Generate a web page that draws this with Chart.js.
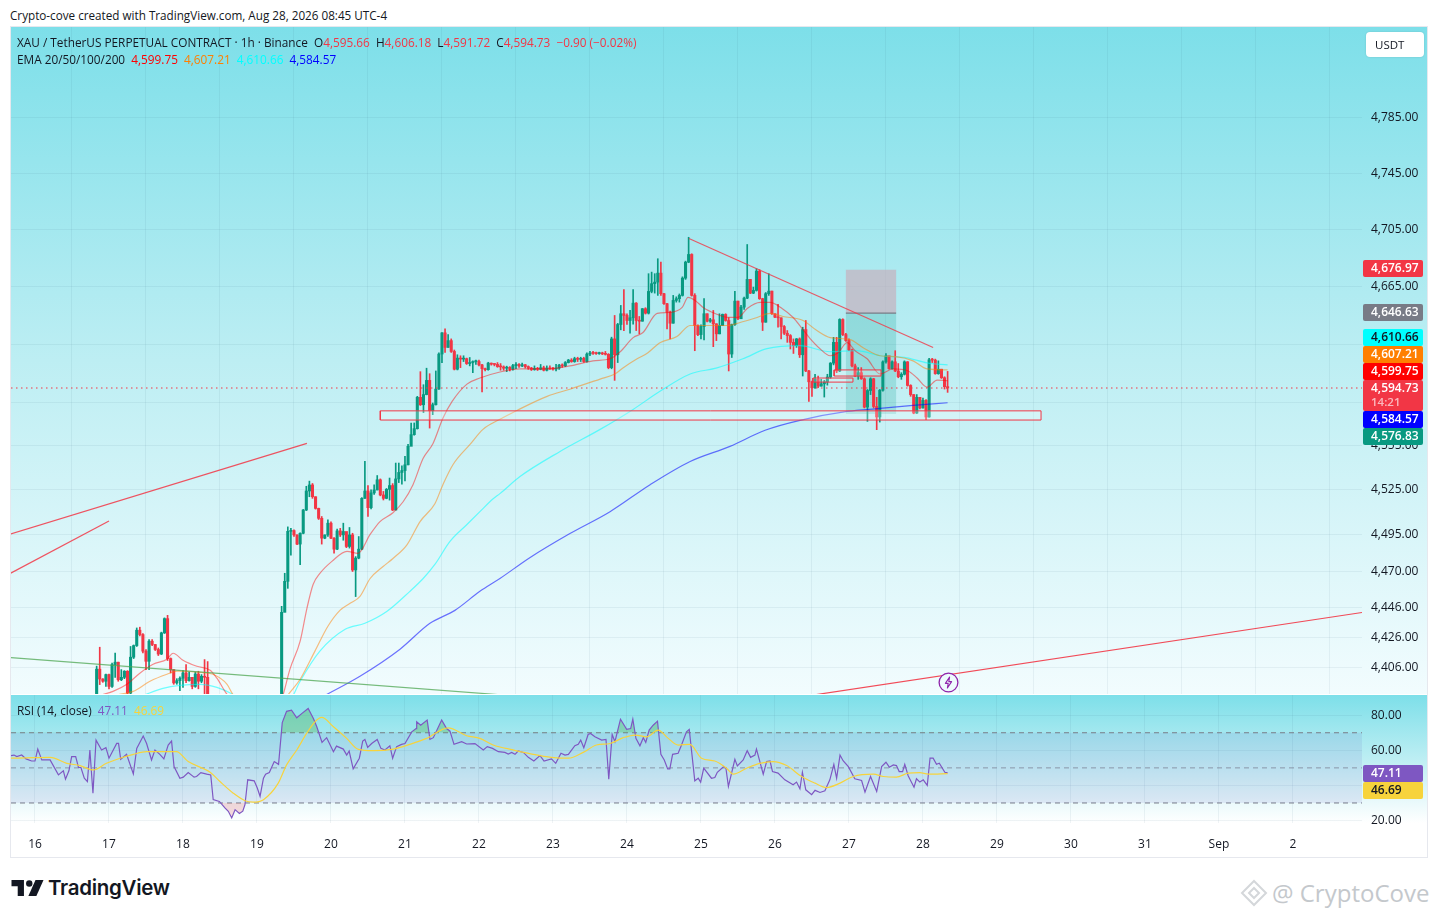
<!DOCTYPE html>
<html>
<head>
<meta charset="utf-8">
<title>XAU / TetherUS</title>
<script src="https://cdn.jsdelivr.net/npm/chart.js@4"></script>
<style>
  html, body { margin: 0; padding: 0; background: #fff; }
  body { width: 1438px; height: 918px; position: relative; overflow: hidden; font-family: "Open Sans", sans-serif; color: #131722; }
  .abs { position: absolute; white-space: nowrap; }
  #frame { left: 10px; top: 26px; width: 1418px; height: 832px; border: 1px solid #e6e8ee; box-sizing: border-box; }
  #mainPane { left: 11px; top: 27px; width: 1417px; height: 667px; background: linear-gradient(180deg, #7ddfe9 0%, #bdeef3 50%, #f2fcfe 100%); }
  #rsiPane { left: 11px; top: 695px; width: 1417px; height: 128px; background: linear-gradient(180deg, #7ddfe9 0%, #bdeef3 50%, #ffffff 100%); }
  #mainChart { position: absolute; left: 11px; top: 27px; }
  #rsiChart { position: absolute; left: 11px; top: 695px; }
  .legend { font-size: 11.8px; line-height: 14px; }
  #usdt { left: 1366px; top: 32px; width: 58px; height: 25px; background: #fff; border-radius: 4px; font-size: 11.5px; line-height: 25px; padding-left: 9px; box-sizing: border-box; box-shadow: 0 0 2px rgba(0,0,0,.15); }
</style>
</head>
<body>
<div class="abs" id="mainPane"></div>
<div class="abs" id="rsiPane"></div>
<div class="abs" id="frame"></div>
<canvas id="mainChart" width="1417" height="667"></canvas>
<canvas id="rsiChart" width="1417" height="163"></canvas>

<div class="abs" style="left:10px;top:8px;font-size:11.7px;line-height:14px;">Crypto-cove created with TradingView.com, Aug 28, 2026 08:45 UTC-4</div>

<div class="abs legend" style="left:17px;top:35px;">XAU / TetherUS PERPETUAL CONTRACT · 1h · Binance&nbsp; O<span style="color:#f23645">4,595.66</span>&nbsp; H<span style="color:#f23645">4,606.18</span>&nbsp; L<span style="color:#f23645">4,591.72</span>&nbsp; C<span style="color:#f23645">4,594.73</span>&nbsp; <span style="color:#f23645">−0.90 (−0.02%)</span></div>
<div class="abs legend" style="left:17px;top:52px;">EMA 20/50/100/200&nbsp; <span style="color:#ff0000">4,599.75</span>&nbsp; <span style="color:#ff7f00">4,607.21</span>&nbsp; <span style="color:#00ffff">4,610.66</span>&nbsp; <span style="color:#0000ff">4,584.57</span></div>
<div class="abs legend" style="left:17px;top:703px;">RSI (14, close)&nbsp; <span style="color:#7e57c2">47.11</span>&nbsp; <span style="color:#f7d33c">46.69</span></div>
<div class="abs" id="usdt">USDT</div>

<svg class="abs" style="left:938px;top:672px;" width="21" height="21" viewBox="0 0 21 21">
  <circle cx="10.5" cy="10.5" r="9.4" fill="#eefbfd" stroke="#8e24aa" stroke-width="1.3"/>
  <path d="M11.6 5 L7.4 11.4 H10.2 L9.4 16 L13.6 9.6 H10.8 Z" fill="none" stroke="#8e24aa" stroke-width="1.1" stroke-linejoin="round"/>
</svg>

<svg class="abs" style="left:11px;top:880px;" width="33" height="16" viewBox="0 0 36 18">
  <path d="M14 0H0v7h7v11h7z" fill="#131722"/><circle cx="20" cy="4" r="3.6" fill="#131722"/><path d="M27 0h9l-8 18h-9z" fill="#131722"/>
</svg>
<div class="abs" style="left:48px;top:875px;font-family:Inter,sans-serif;font-weight:600;font-size:20.5px;line-height:26px;letter-spacing:-.3px;">TradingView</div>

<svg class="abs" style="left:1240px;top:879px;" width="28" height="28" viewBox="0 0 28 28">
  <g fill="none" stroke="#d4d7da" stroke-width="2"><path d="M14 2 L26 14 L14 26 L2 14 Z"/><path d="M14 9 L19 14 L14 19 L9 14 Z"/></g>
</svg>
<div class="abs" style="left:1272px;top:877px;font-size:24px;line-height:32px;color:#c4c8cc;">@ CryptoCove</div>

<script>
// hours counted from Aug 16 00:00, candles start at hour 17
const firstHour = 17;
const closes = [
  4382,4380,4384,
  4405,4398.5,4397,4401.4,4393.6,4408,4409.6,4398,4399.6,4403.6,
  4389.2,4412.9,4420.6,4430.8,4427.9,4416.9,4410.2,4423.5,4421.3,4418,
  4415,4429,4438.5,4412,4404.7,4395.9,4397.4,4399,4402.5,4397.4,
  4399.6,4393.6,4401.8,4397,4400.3,4399.6,4387.5,null,null,null,
  null,null,null,null,null,null,null,null,null,null,
  null,null,null,null,null,null,null,null,null,null,
  4442.7,4463.4,4497,4497.5,4494.6,4488.4,4495.7,4511.4,4524.3,4528.4,
  4520.4,4512.5,4505.8,4492.4,4494.6,4502.5,4492.4,4485,4497.3,4494.6,
  4496.9,4486.8,4494.6,4471,4479,4485,4519.3,4524.3,4513,4523,
  4525,4531.9,4521.6,4519.3,4525.4,4528,4511.4,4532.5,4536.9,4538.2,
  4542.1,4554.7,4562.7,4566.8,4588.3,4583.2,4590.2,4600,4579.1,4583.2,
  4594,4618.2,4632.9,4622.8,4627.5,4620,4607.7,4615.4,4614.7,4615,
  4611.6,4612.3,4612.9,4613,4610.7,4608.1,4607.4,4611.9,4611.2,4611,
  4609.5,4609.3,4608.4,4609,4607.7,4610.2,4611,4610,4610.8,4609.5,
  4608.5,4607.5,4608,4607.6,4608.7,4607,4608.5,4608,4607.8,4608.5,
  4610.5,4610,4612.3,4614,4613,4615,4614.5,4615.2,4613,4618.2,
  4618.9,4618.7,4618.5,4618.7,4618.3,4618,4608.8,4628.7,4617.7,4638.7,
  4646.2,4645,4641.5,4643.4,4653.6,4641.5,4641,4649.7,4646.6,4661.8,
  4667.2,4668.3,4674.6,4660.2,4653.2,4647.3,4639.6,4655.5,4656.7,4659,
  4671.1,4682.3,4687.7,4659,4638,4631.7,4637.3,4646.2,4641,4642,
  4639.2,4632.2,4638,4645.7,4641.5,4618.2,4638.7,4655,4642.7,4650.8,
  4657.1,4670.2,4660.6,4662.5,4676,4656.7,4640.3,4660.2,4662,4646.2,
  4643.8,4643.4,4637.3,4632.6,4631,4626.3,4624,4628.7,4617.7,4635.2,
  4606.5,4599,4594.9,4600.7,4596,4597.6,4599,4602.3,4611.9,4626.3,
  4606.5,4642.2,4631.7,4627.5,4621,4610,4603,4605.3,4601.1,4581.6,
  4593,4601.1,4582,4574.8,4593.2,4612.8,4617,4608.1,4612.8,4606.5,
  4602.5,4604.2,4612.8,4596.5,4590.2,4577.5,4588.3,4581,4586.2,4574.8,
  4614.2,4614,4604.6,4607.7,4601.8,4595.66,4594.73
];
const highs = [
  4384,4383,4386,
  4407,4419.5,4398.7,4401.8,4401.8,4409,4415.7,4409.6,4404.7,4404,
  4404,4420,4421,4432.3,4432.8,4428.6,4418,4424.6,4424.6,4421.3,
  4419,4429.5,4439,4440.7,4412.4,4404.7,4398.7,4400,4404,4408,
  4403,4399.6,4403,4403.6,4401.4,4411.3,4410,null,null,null,
  null,null,null,null,null,null,null,null,null,null,
  null,null,null,null,null,null,null,null,null,null,
  4446.7,4468.8,4500,4499,4498,4494.6,4496,4511.8,4527.5,4531,
  4529.4,4520.4,4512.7,4507,4494.6,4504.7,4503.4,4492.8,4498.6,4499,
  4502.5,4494.6,4499.6,4495.7,4480,4493.5,4519.8,4544.4,4528,4525,
  4528.4,4534.8,4532.5,4524,4526,4533.1,4529.3,4543.3,4543.3,4541.4,
  4547.8,4556,4570.7,4570.7,4589,4606,4597,4608.4,4604.6,4584.4,
  4606.5,4619,4633.1,4635.7,4631.7,4628.7,4621,4617.7,4617,4617,
  4615.4,4615.8,4613.5,4614,4614,4611,4608.5,4612.5,4612,4611.5,
  4612.3,4611.6,4610,4609.8,4609.5,4611,4612.3,4611.6,4612,4611,
  4610,4609,4610,4609,4611,4609.8,4610,4610,4609,4611,
  4611,4611.4,4613,4614.5,4615,4616,4616,4616,4616,4619,
  4620,4620,4619.5,4619.5,4619.5,4620,4618.5,4629.9,4645,4639.5,
  4652,4663,4646.2,4648.5,4663,4654,4644.3,4649.9,4650.4,4674.2,
  4675.3,4674.2,4684.7,4682.3,4660.5,4653.5,4648,4659,4658,4660,
  4672,4683,4699.8,4688.2,4660.2,4638.5,4638.5,4656.7,4646.2,4643,
  4648.5,4639.2,4646.2,4646,4646.2,4643.4,4639,4661.8,4655,4652,
  4657.8,4694.7,4670.2,4664.8,4677.7,4677,4657,4661,4674.2,4662,
  4646.2,4652.7,4643.4,4638,4634.5,4631.7,4628.7,4629,4629.4,4636.8,
  4641.5,4607,4599.5,4604.2,4603,4600.7,4600,4604.2,4612.3,4629.8,
  4629.8,4642.7,4642.7,4632.6,4628.7,4621.7,4611.2,4608.8,4608.8,4601.8,
  4593.7,4601.8,4601.4,4588.3,4593.7,4613.5,4618.6,4616.3,4613.5,4620.5,
  4611.6,4605.3,4613.5,4613,4597,4590.2,4590.2,4587.8,4587.8,4586.7,
  4615.2,4615.2,4614.7,4613.5,4607.7,4602.5,4606.18
];
const lows = [
  4380,4378,4379,
  4384,4394.8,4396.3,4393.6,4391.9,4393,4399.6,4397,4397.4,4398.7,
  4388,4388,4412,4420,4427,4415.7,4404.7,4404.7,4420.6,4417.3,
  4414,4414.6,4428.6,4410.7,4402.5,4395,4395,4390.8,4393,4396,
  4397,4392,4393,4392,4396,4387.7,4384,null,null,null,
  null,null,null,null,null,null,null,null,null,null,
  null,null,null,null,null,null,null,null,null,null,
  4370,4443,4458.7,4481,4493.5,4488,4474.5,4495.3,4511,4520.4,
  4519.3,4512,4505,4488.4,4492,4493.5,4492,4482.3,4484.6,4493.5,
  4491,4486,4485.7,4470,4453.2,4478.5,4484.6,4519.3,4507,4512.1,
  4522,4525,4521,4518.2,4519,4518.1,4511,4511.4,4530,4529,
  4531.2,4542,4556.1,4562.3,4566.5,4582.7,4577.8,4590,4567.2,4576.4,
  4583,4593.7,4612.3,4619.3,4622.8,4619.3,4607.2,4607.2,4608.8,4613,
  4611,4610,4605.3,4611,4610,4592,4606.5,4607,4610.5,4610,
  4609,4607,4607,4606,4606.5,4607,4608,4609,4609.5,4608.5,
  4607.6,4606.8,4607,4606.8,4607.3,4606.5,4606.5,4607.5,4607,4606.5,
  4607.5,4609,4609.5,4612,4612.5,4612.5,4613,4613,4612.5,4612.5,
  4617,4618,4618,4618,4617.8,4617.5,4608,4608,4600,4612.3,
  4635,4634.5,4638.7,4632.6,4639,4634.5,4632.2,4641,4646,4646,
  4660.8,4660.6,4659,4659,4652.7,4635.7,4628.7,4639.6,4654.3,4654.3,
  4658.5,4670.2,4681.9,4658.5,4620.5,4631,4628.7,4628,4640.5,4640.2,
  4623.3,4627.5,4632.2,4638,4641,4606.5,4615.8,4638,4642,4645,
  4649.2,4656.7,4660.2,4660.2,4662,4656.2,4634.5,4640.3,4659,4645.7,
  4643.4,4636.8,4628.7,4631.7,4626.3,4621.7,4618.6,4622.8,4615.8,4603,
  4606,4585.5,4589,4594.4,4595,4596,4588.5,4596.7,4601.4,4610.7,
  4605.3,4606,4631,4627,4620.5,4609.3,4602.5,4600.7,4600.7,4581,
  4571.8,4590.2,4581,4566.1,4571.3,4592.5,4611.9,4607.7,4607.7,4606,
  4601.8,4600.7,4603.7,4596,4589,4577,4577.2,4580.3,4580.8,4572.9,
  4574.6,4612.3,4604.2,4604.2,4601.3,4594,4591.72
];

const ema20Hours = [21.1,25.3,29.8,34,38.3,42.8,44.8,48,52.5,56.8,59,62.3,70,78,80.4,82.7,86,88.2,90.2,92.4,96.3,101.2,104.8,108.7,111.9,116.1,119.4,122.6,125.9,129.1,132.3,135.3,140.1,144.3,150.8,157.3,166.1,173.5,181,186.5,189.8,194,197.2,201.8,206,209.9,211.8,214.1,216.7,220.6,224.8,228,231,235.2,238.4,242.3,245.9,248.8,251.4,254.6,257.9,260.5,263.4,266,269.9,274.1,278.3,283.2,286.1,289.3,292.6,296];
const ema20 = [4387.7,4390.3,4395,4402.3,4408.2,4411.6,4415.5,4410.9,4406.9,4404.3,4399,4388.3,4374,4375,4387.6,4405,4423.5,4445.4,4461.3,4468.7,4476.8,4483.5,4482.2,4494.9,4503.6,4509.6,4517,4528.6,4546.5,4556.7,4573.9,4585.5,4597.4,4601.6,4605.8,4607.9,4607.9,4610,4613.5,4614.9,4619.8,4629.6,4633.1,4646.4,4647.1,4650.6,4657.6,4655.5,4650.6,4646.4,4643.6,4643.6,4649.9,4654.1,4654.1,4649.9,4643.6,4635.9,4628.9,4621.9,4617,4619.1,4626.1,4620.5,4614.9,4604.4,4607.9,4606.5,4601.6,4595.3,4600.2,4599.75];
const ema50Hours = [25.3,31.8,37.3,42.8,46.1,53.5,57.7,62.3,64.2,73,79.5,81.7,86,90.8,95,98.9,102.2,105.4,108.7,112.9,116.1,120.7,124.9,129.7,132.3,135.6,141.1,145.3,150.8,156.3,166.1,173.5,183.3,188.1,190.7,195.3,198.8,202.7,208.2,212.5,218,224.5,228.7,234.2,238.4,242.6,249.1,253.6,257.9,264.4,268.6,274.1,279.6,284.8,289.3,296];
const ema50 = [4387.6,4390.3,4397,4401.6,4403.6,4402.9,4401.6,4395,4388.3,4374,4380,4387,4398.3,4416.9,4433.4,4444,4448.7,4453.4,4465.3,4473.3,4478.7,4488.1,4503.6,4515.7,4528.6,4542.3,4556,4566.3,4573.2,4579.3,4589,4593.9,4600.9,4604.4,4608.6,4614.9,4619.1,4626.1,4630.3,4638,4638,4638,4640.1,4643.6,4646.4,4644.3,4641.5,4634.5,4629.6,4628.2,4622.6,4617,4616.3,4613.5,4607.9,4607.21];
const ema100Hours = [35,41.5,47,53.5,59,64.2,74.6,82.7,86,92.4,100.6,107,114.2,121.6,125.9,129.7,134.6,140.1,144.3,148.6,150.8,157.3,170.3,183.3,194,202.7,212.5,221.2,229.6,237.4,248.1,257.9,266.6,274.1,282.8,289.3,296];
const ema100 = [4387.6,4392.3,4394.3,4395,4393,4388.3,4374,4384,4397,4416.9,4431.4,4435.4,4443.4,4456.7,4465.3,4474.7,4490.2,4501.6,4510.3,4519,4522.5,4534.1,4551.2,4566.3,4580,4592.5,4604.4,4608.6,4614.9,4621.9,4624,4619.8,4620.5,4617,4615.6,4612.1,4610.66];
const ema200Hours = [94,105.4,118.4,128.1,136.2,144.3,150.8,160.6,173.5,186.5,199.5,212.5,225.4,236.8,248.1,263.4,274.1,284.8,296];
const ema200 = [4387.6,4400.3,4418.2,4435.4,4444,4456.7,4465.3,4479.4,4495.5,4510.3,4528.6,4544.4,4554.7,4565.7,4572.5,4578.6,4580.7,4582.8,4584.57];

const rsiHours = [-7.9,-6.8,-5.9,-4.3,-2.9,-1.1,0,.9,2.2,4.9,7.6,9.2,9.9,11,11.9,13.2,14.1,14.9,16,17,17.8,18.8,19.8,21.6,23,24,26.5,27.1,27.8,29.7,31.9,33,35.1,36.2,37.8,38.9,40.5,41.8,43.2,44.3,45.1,47,48.1,49.7,51.6,52.4,53.8,55.7,57,57.8,59.8,61.6,62.7,63.8,64.9,66.3,67.4,68.1,69,71.1,72.1,73,74.1,74.8,76,77.6,79,80.2,81.6,83.2,84.9,86.5,88.6,90.3,91.4,93.1,94.6,96.8,97.8,100,101.1,101.9,103.2,105.2,106.3,107,107.9,109.2,111,112.2,113.5,115.1,116,117.3,118.9,120,122.2,123.6,123.8,125.1,127.2,128.1,129.2,131.9,133.5,134.6,135.9,138.4,140,142.7,145.4,146.7,148.4,150.3,152.4,153.5,154.6,155.7,156.7,158.4,160,161.8,163.8,165.1,167.5,168.9,170.6,171.9,173,175.1,176.2,177,178,179.4,180.2,181.6,183.8,185.2,186.1,187.2,188.1,189.9,191.9,193.2,193.9,194.9,196.2,197.3,198.1,199.2,200.5,201.9,203,204.1,205.2,205.9,206.8,208.6,209.7,211.3,212.2,214,215.1,215.9,216.9,219.4,220.5,221.3,223.4,224.1,224.9,227,227.8,229.7,231,232.1,233.5,234,236.2,237.3,238.4,239.2,241,243.2,245.9,247,248.1,248.9,250,251.9,253,254.6,256.2,257.8,259.1,260,261.1,262.1,263.8,265.9,268.1,269.2,271,273,274.6,276,277.1,278.4,279.4,280.3,281.4,282.1,283.2,285.1,285.9,287,288.1,289.4,290.3,291.3,292.4,293.3,295.1,296];
const rsiValues = [57,57.3,56.4,57.3,55.1,53.9,53.9,60.7,54.5,54.5,46,48.3,43.6,48.3,56.4,56.4,50.2,50.2,44.1,42.2,60.2,35.6,65.8,60.2,61.5,55.5,63.9,63.9,54.9,57.7,46.6,61.1,68.1,63.9,54.5,60.2,57.7,55.1,63,65.3,50.7,44.1,44.7,47.3,44.7,45.1,47.3,46.4,46,31.9,30.9,27.2,25.3,21.5,26.2,24,25.3,29,43.2,42.6,38.5,33.8,44.1,46.4,47.3,53.6,52,75.8,82.2,82.8,78.5,80.9,83.8,78.1,73.4,64.5,67.2,59.2,62.4,60.7,57.3,59.6,49.4,55.5,65.3,66.2,61.7,63.9,66.2,61.1,60.2,62.6,55.5,62.1,63.4,63.9,70.5,72.4,76.2,74.3,77.2,66.2,67.2,77.2,72.4,70.9,63.4,64.9,63.6,63.8,60.2,62.1,61.1,59.2,58.8,57.9,58.8,57.7,59.6,58.8,56,53.9,57,53.9,55.1,52.6,58.3,57.3,57.7,62.6,63.4,65.8,61.5,69,69.6,67.7,65.8,66.2,43.6,69,64.9,77.7,71.9,72.4,77.7,66.8,62.6,67.2,64.5,71.5,74.3,76.6,57.7,54.5,49.4,49.4,57.7,58.3,63,70.5,71.9,42.6,44.1,41.9,49.8,44.1,44.5,47.5,50.7,49.8,39.4,54.9,51.1,54.5,59.8,56,57.3,60.7,46.4,53.6,53.9,47.9,47,43.2,40.4,41.9,38.1,47.5,37.5,34.7,37.2,36,37,43.2,52,44.1,57.3,54.1,50.7,43.8,42.8,36.2,45.1,36.6,50.7,53.2,50.4,51.7,51.3,47.9,47.9,52,45.5,39,43.8,41.9,43.2,40,55.5,55.5,52,52.6,47.5,47.11];
const rsiMaHours = [-7.9,-.5,4.9,10.3,14.6,18.9,23.2,27.6,31.9,36.2,40.5,45.9,49.7,56.8,60,64.3,68.1,70.8,74.1,78.9,81.6,84.9,88.1,90.8,93,96.8,101.1,104.9,109.7,116.2,121.6,127,134,140,144.3,148.6,155.1,161.6,167.5,173,177.8,182.1,186.5,190.8,194.6,198.4,202.1,205.4,208.6,212.4,216.2,220.5,224.3,226.5,230.8,235.1,239.4,243.8,248.6,253,256.7,261.1,265.4,271.9,275.1,279.4,283.2,287,289.7,296];
const rsiMa = [55.5,55.8,56,52.6,51.3,48.8,52.6,55.5,57.7,59.2,59.2,59.2,53.6,47.5,42.2,35.6,31.3,30.5,31.9,41.3,51.7,60.2,69.6,76.2,78.7,73.4,66.8,60.5,59.8,60.7,63.4,66.8,72.8,68.3,66.8,63,60.2,57.7,56,55.5,58.8,63,63.9,67.2,68.7,67.7,71.5,66.8,63,63.4,55.5,53.9,49.8,46.4,49.8,52.6,53.6,51.3,45.1,41.3,38.8,41.3,45.1,46.4,45.1,44.7,47,47.3,46.4,46.69];

const priceTicks = [4785,4745,4705,4665,4625,4585,4555,4525,4495,4470,4446,4426,4406];
const rsiTicks = [80,60,40,20];
const dayHours = [0,24,48,72,96,120,144,168,192,216,240,264,288,312,336,360,384,408];
const dayLabels = ["16","17","18","19","20","21","22","23","24","25","26","27","28","29","30","31","Sep","2"];

// x = hours, y = price, drawings from the picture
const trendA = [[-8.1,4495],[88.2,4556.7]];
const trendB = [[-8.1,4468.6],[24,4504]];
const trendGreen = [[-8.1,4412.7],[154,4387.6]];
const trendUp = [[251.4,4387.6],[430.4,4442.6]];
const trendDown = [[212.1,4698.9],[291.3,4622.7]];
const zoneBox = [112,326.3,4572.7,4579];
const smallBoxA = [259.2,274.4,4603,4607.2];
const smallBoxB = [252.3,265.3,4598.8,4601.6];
const longBox = [263,279.3];
const stopPrice = 4676.97, entryPrice = 4646.63, targetPrice = 4576.83;
const lastPrice = 4594.73;

const xMin = -7.78, xMax = 430.4;
const gridColor = "rgba(42,80,110,.07)";
const tickFont = { family: "'Open Sans', sans-serif", size: 12 };

const toPts = (hours, vals) => hours.map((h, i) => ({ x: h, y: vals[i] }));
const pairs = (list) => list.map(p => ({ x: p[0], y: p[1] }));
const rect = (x0, x1, y0, y1) => [{x:x0,y:y0},{x:x1,y:y0},{x:x1,y:y1},{x:x0,y:y1},{x:x0,y:y0}];

const wicks = [], bodies = [], bodyColors = [], wickColors = [];
closes.forEach((c, i) => {
  if (c == null) return;
  const o = closes[i - 1] ?? lows[i];
  const x = firstHour + i;
  const col = c >= o ? "#089981" : "#f23645";
  wicks.push({ x, y: [lows[i], highs[i]] });
  bodies.push({ x, y: [o, c] });
  bodyColors.push(col);
  wickColors.push(col);
});

const lineSet = (data, color, order, extra) => Object.assign({
  type: "line", data, borderColor: color, borderWidth: 1.2, pointRadius: 0, tension: 0, fill: false, order
}, extra || {});

const emaSet = (data, color) => lineSet(data, color, 3, { cubicInterpolationMode: "monotone" });

const shapeSet = (data, fillColor, lineColor, order, width) => ({
  type: "line", data, borderColor: lineColor, backgroundColor: fillColor, borderWidth: width, pointRadius: 0,
  tension: 0, fill: "shape", order
});

function xAxis(showLabels) {
  return {
    type: "linear", min: xMin, max: xMax, offset: false,
    border: { display: false },
    grid: { color: gridColor, drawTicks: false },
    ticks: {
      display: showLabels, autoSkip: false, maxRotation: 0, padding: 14, color: "#131722",
      font: { family: tickFont.family, size: 12 },
      callback: (v) => dayLabels[dayHours.indexOf(v)]
    },
    afterBuildTicks: (s) => { s.ticks = dayHours.map(v => ({ value: v })); },
    afterFit: (s) => {
      s.height = showLabels ? 35 : 0;
      s.paddingLeft = 0;
      s.paddingRight = 0;
    }
  };
}

// the stacked price tags on the axis, top is in canvas px
function tagPlugin(tags) {
  return {
    id: "tags",
    afterDraw(chart) {
      const c = chart.ctx, left = chart.chartArea.right + 1;
      c.save();
      c.textBaseline = "middle";
      tags.forEach(t => {
        c.fillStyle = t.bg;
        c.beginPath();
        c.roundRect(left, t.top, 60, t.h, 2);
        c.fill();
        c.font = "600 12px 'Open Sans', sans-serif";
        c.fillStyle = t.fg;
        c.fillText(t.text, left + 8, t.top + 9);
        if (t.sub) {
          c.font = "600 11.5px 'Open Sans', sans-serif";
          c.fillStyle = "rgba(255,255,255,.65)";
          c.fillText(t.sub, left + 8, t.top + 23);
        }
      });
      c.restore();
    }
  };
}

const yFit = (s) => { s.width = 66; s.paddingTop = 0; s.paddingBottom = 0; };

new Chart(document.getElementById("mainChart"), {
  data: {
    datasets: [
      { type: "bar", data: bodies, backgroundColor: bodyColors, barThickness: 2.4, grouped: false, minBarLength: 1, order: 6 },
      { type: "bar", data: wicks, backgroundColor: wickColors, barThickness: 1, grouped: false, order: 7 },
      emaSet(toPts(ema20Hours, ema20), "rgba(255,0,0,.45)"),
      emaSet(toPts(ema50Hours, ema50), "rgba(255,127,0,.5)"),
      emaSet(toPts(ema100Hours, ema100), "rgba(0,255,255,.55)"),
      emaSet(toPts(ema200Hours, ema200), "rgba(0,0,255,.55)"),
      lineSet(pairs(trendA), "rgba(242,54,69,.85)", 2),
      lineSet(pairs(trendB), "rgba(242,54,69,.85)", 2),
      lineSet(pairs(trendGreen), "rgba(76,165,80,.75)", 2),
      lineSet(pairs(trendUp), "rgba(242,54,69,.9)", 2),
      lineSet(pairs(trendDown), "rgba(242,54,69,.8)", 2),
      shapeSet(rect(zoneBox[0], zoneBox[1], zoneBox[2], zoneBox[3]), "rgba(255,255,255,.25)", "#f23645", 2, 1),
      shapeSet(rect(smallBoxA[0], smallBoxA[1], smallBoxA[2], smallBoxA[3]), "rgba(255,255,255,.2)", "#f23645", 2, 1),
      shapeSet(rect(smallBoxB[0], smallBoxB[1], smallBoxB[2], smallBoxB[3]), "rgba(255,255,255,.2)", "#f23645", 2, 1),
      shapeSet(rect(longBox[0], longBox[1], entryPrice, stopPrice), "rgba(198,177,189,.7)", "rgba(0,0,0,0)", 9, 0),
      shapeSet(rect(longBox[0], longBox[1], targetPrice, entryPrice), "rgba(0,150,136,.2)", "rgba(0,0,0,0)", 9, 0),
      lineSet(pairs([[longBox[0], entryPrice],[longBox[1], entryPrice]]), "#787b86", 8),
      lineSet(pairs([[xMin, lastPrice],[xMax, lastPrice]]), "#f23645", 4, { borderWidth: 1, borderDash: [1.5, 3.5] })
    ]
  },
  options: {
    responsive: false, animation: false, layout: { padding: 0 },
    plugins: { legend: { display: false }, tooltip: { enabled: false } },
    scales: {
      x: xAxis(false),
      y: {
        type: "logarithmic", position: "right", min: 4388.6, max: 4850.4,
        border: { display: false },
        grid: { color: gridColor, drawTicks: false },
        ticks: {
          autoSkip: false, padding: 9, color: "#131722", font: tickFont,
          callback: (v) => v.toLocaleString("en-US", { minimumFractionDigits: 2 })
        },
        afterBuildTicks: (s) => { s.ticks = priceTicks.map(v => ({ value: v })); },
        afterFit: yFit
      }
    }
  },
  plugins: [tagPlugin([
    { text: "4,676.97", bg: "#f23645", fg: "#fff", top: 233, h: 17 },
    { text: "4,646.63", bg: "#787b86", fg: "#fff", top: 277, h: 17 },
    { text: "4,610.66", bg: "#00ffff", fg: "#131722", top: 302, h: 17 },
    { text: "4,607.21", bg: "#ff7f00", fg: "#fff", top: 319, h: 17 },
    { text: "4,599.75", bg: "#ff0000", fg: "#fff", top: 336, h: 17 },
    { text: "4,594.73", sub: "14:21", bg: "#f23645", fg: "#fff", top: 353, h: 31 },
    { text: "4,584.57", bg: "#0000ff", fg: "#fff", top: 384, h: 17 },
    { text: "4,576.83", bg: "#089981", fg: "#fff", top: 401, h: 17 }
  ])]
});

new Chart(document.getElementById("rsiChart"), {
  data: {
    datasets: [
      lineSet(toPts(rsiHours, rsiValues), "#7e57c2", 1, { fill: { target: { value: 70 }, above: "rgba(76,175,80,.35)", below: "rgba(0,0,0,0)" } }),
      lineSet(toPts(rsiHours, rsiValues), "rgba(0,0,0,0)", 2, { borderWidth: 0, fill: { target: { value: 30 }, above: "rgba(0,0,0,0)", below: "rgba(242,54,69,.18)" } }),
      lineSet(toPts(rsiMaHours, rsiMa), "#f7d33c", 0, { cubicInterpolationMode: "monotone" }),
      lineSet(pairs([[xMin, 70],[xMax, 70]]), "#787b86", 3, { borderWidth: 1, borderDash: [5, 4], fill: { target: "+1" }, backgroundColor: "rgba(90,80,190,.1)" }),
      lineSet(pairs([[xMin, 30],[xMax, 30]]), "#787b86", 3, { borderWidth: 1, borderDash: [5, 4] }),
      lineSet(pairs([[xMin, 50],[xMax, 50]]), "rgba(120,123,134,.7)", 3, { borderWidth: 1, borderDash: [5, 4] })
    ]
  },
  options: {
    responsive: false, animation: false, layout: { padding: 0 },
    plugins: { legend: { display: false }, tooltip: { enabled: false } },
    scales: {
      x: xAxis(true),
      y: {
        type: "linear", position: "right", min: 18.6, max: 91.5,
        border: { display: false },
        grid: { color: gridColor, drawTicks: false },
        ticks: {
          autoSkip: false, padding: 9, color: "#131722", font: tickFont,
          callback: (v) => v.toFixed(2)
        },
        afterBuildTicks: (s) => { s.ticks = rsiTicks.map(v => ({ value: v })); },
        afterFit: yFit
      }
    }
  },
  plugins: [tagPlugin([
    { text: "47.11", bg: "#7e57c2", fg: "#fff", top: 70, h: 17 },
    { text: "46.69", bg: "#f7d33c", fg: "#131722", top: 87, h: 17 }
  ])]
});
</script>
</body>
</html>
